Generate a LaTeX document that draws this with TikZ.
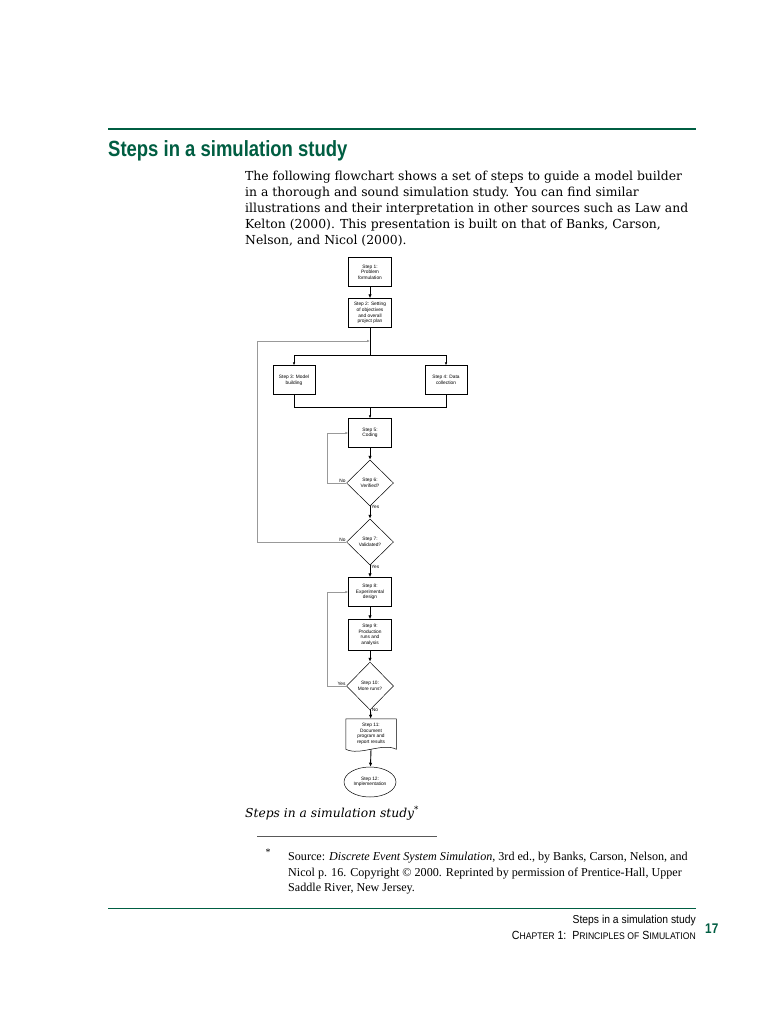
\documentclass[tikz,border=0pt]{standalone}
\usepackage{fontspec}
\setmainfont{DejaVu Serif}
\newfontfamily\titlefont[FakeStretch=0.84]{Liberation Sans}
\newfontfamily\footfont[FakeStretch=0.9]{Liberation Sans}
\newfontfamily\chartfont{Liberation Sans}
\newfontfamily\notefont{Liberation Serif}
\usetikzlibrary{arrows.meta,shapes.geometric}
\definecolor{pagegreen}{RGB}{0,94,66}
\begin{document}
\begin{tikzpicture}[x=1pt,y=-1pt,
  stepbox/.style={draw,line width=0.5pt,minimum width=43,minimum height=29,
    inner sep=1pt,align=center,font=\chartfont\fontsize{4.8}{5.6}\selectfont},
  decision/.style={stepbox,diamond,aspect=1,minimum width=47,minimum height=46,inner sep=0pt},
  endstep/.style={stepbox,ellipse,minimum width=52,minimum height=30},
  lbl/.style={font=\chartfont\fontsize{4.8}{5.5}\selectfont,inner sep=1pt},
  flow/.style={line width=0.9pt,-{Latex[length=4pt,width=3.5pt]}},
  feed/.style={line width=0.7pt,-{Latex[length=3pt,width=2.6pt]}},
  loopback/.style={draw=gray!80,line width=0.6pt,-{Latex[length=3pt,width=2.6pt]}}]
  \useasboundingbox[fill=white] (0,0) rectangle (768,1024);

  % page head
  \draw[pagegreen,line width=1.6pt] (108,129) -- (696,129);
  \node[anchor=base west,inner sep=0pt,text=pagegreen,font=\titlefont\bfseries\fontsize{22}{25}\selectfont]
    (title) at (108,157) {Steps in a simulation study};
  \node[anchor=north west,inner sep=0pt,align=left,font=\fontsize{12.4}{16}\selectfont]
    (intro) at (245,171) {The following flowchart shows a set of steps to guide a model builder\\
    in a thorough and sound simulation study. You can find similar\\
    illustrations and their interpretation in other sources such as Law and\\
    Kelton (2000). This presentation is built on that of Banks, Carson,\\
    Nelson, and Nicol (2000).};

  % flowchart
  \node[stepbox] (s1) at (370,272) {Step 1:\\Problem\\formulation};
  \node[stepbox] (s2) at (370,313) {Step 2: Setting\\of objectives\\and overall\\project plan};
  \node[stepbox,minimum width=42] (s3) at (294,380) {Step 3: Model\\building};
  \node[stepbox,minimum width=42] (s4) at (446,380) {Step 4: Data\\collection};
  \node[stepbox] (s5) at (370,433) {Step 5:\\Coding};
  \node[decision] (s6) at (370,483) {Step 6:\\Verified?};
  \node[decision] (s7) at (370,542) {Step 7:\\Validated?};
  \node[stepbox] (s8) at (370,592) {Step 8:\\Experimental\\design};
  \node[stepbox,minimum height=31] (s9) at (370,635) {Step 9:\\Production\\runs and\\analysis};
  \node[decision,minimum height=48] (s10) at (370,686) {Step 10:\\More runs?};
  \node[stepbox,draw=none,minimum width=50,minimum height=30] (s11) at (371,734)
    {Step 11:\\Document\\program and\\report results};
  \draw[line width=0.5pt] (s11.south west) -- (s11.north west) -- (s11.north east) -- (s11.south east)
    .. controls +(-14,-7) and +(14,7) .. (s11.south west);
  \node[endstep] (s12) at (370,782) {Step 12:\\Implementation};

  \coordinate (backin) at (370,341);
  \coordinate (split) at (370,355);
  \coordinate (merge) at (370,407.5);

  \draw[flow] (s1) -- (s2);
  \draw[line width=0.7pt] (s2.south) -- (split);
  \draw[feed] (split) -| (s3.north);
  \draw[feed] (split) -| (s4.north);
  \draw[line width=0.7pt] (s3.south) |- (merge) -| (s4.south);
  \draw[feed] (merge) -- (s5.north);
  \draw[flow] (s5) -- (s6);
  \draw[flow] (s6) -- node[lbl,right,pos=0.05] {Yes} (s7);
  \draw[flow] (s7) -- node[lbl,right,pos=0.1] {Yes} (s8);
  \draw[flow] (s8) -- (s9);
  \draw[flow] (s9) -- (s10);
  \draw[flow] (s10) -- node[lbl,right,pos=0.05] {No} (s11);
  \draw[flow] (s11.south) -- (s12);

  \draw[loopback] (s6.west) node[lbl,above left,inner sep=0.5pt] {No} -- ++(-19,0) |- (s5.west);
  \draw[loopback] (s7.west) node[lbl,above left,inner sep=0.5pt] {No} -- ++(-89,0) |- (backin);
  \draw[loopback] (s10.west) node[lbl,above left,inner sep=0.5pt] {Yes} -- ++(-19,0) |- (s8.west);

  \node[anchor=base west,inner sep=0pt,font=\itshape\fontsize{12.3}{14}\selectfont]
    (caption) at (245,817) {Steps in a simulation study\textsuperscript{*}};

  % footnote
  \draw[gray!70!black,line width=1pt] (257,836) -- (437,836);
  \node[anchor=north,inner sep=0pt,font=\notefont\fontsize{10}{12}\selectfont] (star) at (268,849) {*};
  \node[anchor=north west,inner sep=0pt,align=left,font=\notefont\fontsize{12.1}{15.5}\selectfont]
    (source) at (288,852) {Source: \textit{Discrete Event System Simulation}, 3rd ed., by Banks, Carson, Nelson, and\\
    Nicol p. 16. Copyright \textcopyright\ 2000. Reprinted by permission of Prentice-Hall, Upper\\
    Saddle River, New Jersey.};

  % page foot
  \draw[pagegreen,line width=1pt] (108,908) -- (696,908);
  \node[anchor=base east,inner sep=0pt,font=\footfont\fontsize{11.5}{13}\selectfont]
    (runhead) at (696,923) {Steps in a simulation study};
  \node[anchor=base east,inner sep=0pt,font=\footfont\fontsize{11.8}{13}\selectfont]
    (chapter) at (696,939) {C{\fontsize{9.6}{11}\selectfont HAPTER} 1:\ \ P{\fontsize{9.6}{11}\selectfont RINCIPLES OF} S{\fontsize{9.6}{11}\selectfont IMULATION}};
  \node[anchor=base west,inner sep=0pt,text=pagegreen,font=\titlefont\bfseries\fontsize{14}{16}\selectfont]
    (pagenum) at (705,933) {17};
\end{tikzpicture}
\end{document}
